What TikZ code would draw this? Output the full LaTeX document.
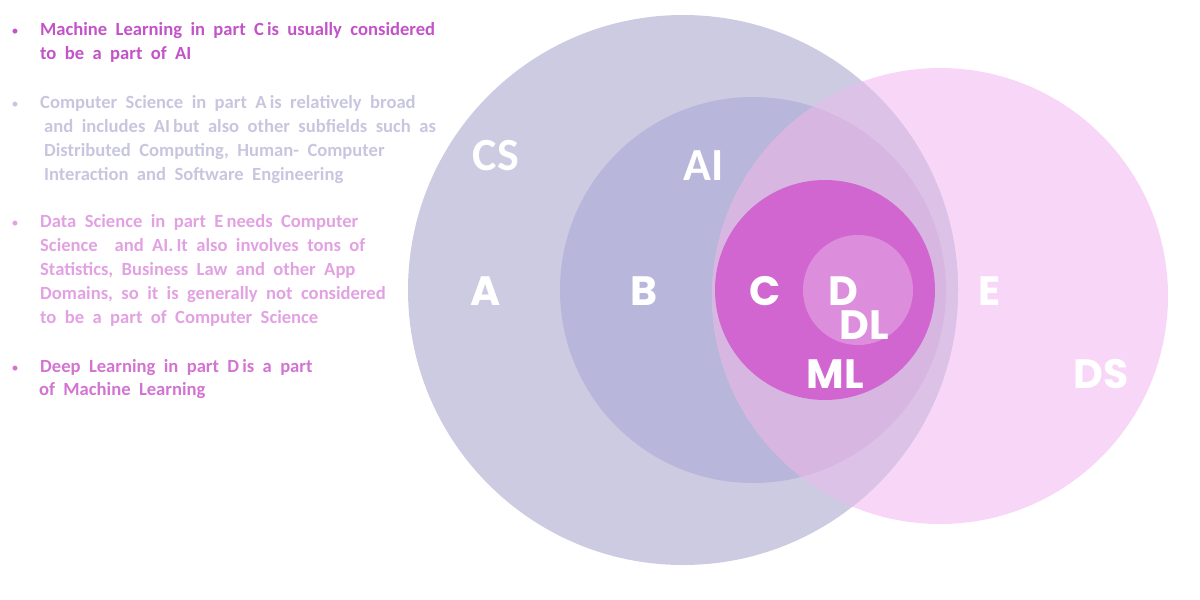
\documentclass[tikz,border=0pt]{standalone}
\usepackage{fontspec}
\setmainfont{Carlito}
\newfontfamily\popfont{Poppins}
\newfontfamily\notefont[WordSpace=2]{Carlito}
\usepackage{tikz}

\definecolor{csfill}{HTML}{CDCBE2}
\definecolor{aifill}{HTML}{B8B6DA}
\definecolor{dsfill}{HTML}{F7D6F7}
\definecolor{csds}{HTML}{DDC2E7}
\definecolor{aids}{HTML}{D7B7E1}
\definecolor{mlfill}{HTML}{D266D0}
\definecolor{dlfill}{HTML}{DC8EDC}
\definecolor{noteone}{HTML}{C353C8}
\definecolor{notetwo}{HTML}{C8C6DF}
\definecolor{notethree}{HTML}{E2A2E2}
\definecolor{notefour}{HTML}{D274D2}

\tikzset{
  note/.style={anchor=base west, inner sep=0pt, font=\notefont\bfseries\fontsize{18.6}{24}\selectfont},
  dot/.style={anchor=base, inner sep=0pt, font=\fontsize{14}{24}\selectfont},
  biglabel/.style={anchor=base, inner sep=0pt, text=white, font=\popfont\bfseries\fontsize{41}{41}\selectfont},
  setlabel/.style={anchor=base, inner sep=0pt, text=white, font=\bfseries\fontsize{46}{46}\selectfont}
}

\begin{document}
\begin{tikzpicture}[x=1pt,y=-1pt]
	\useasboundingbox (0,0) rectangle (1200,600);

	% the sets
	\fill[dsfill] (940,296) circle (228pt);
	\fill[csfill] (683,290) circle (275pt);
	\fill[aifill] (753,290) circle (193pt);
	\begin{scope}
		\clip (940,296) circle (228pt);
		\fill[csds] (683,290) circle (275pt);
		\fill[aids] (753,290) circle (193pt);
	\end{scope}
	\fill[mlfill] (825,290) circle (110pt);
	\fill[dlfill] (858,290) circle (55pt);

	% labels inside
	\node[setlabel] (csL) at (496,170) {CS};
	\node[setlabel] (aiL) at (704,180) {AI};
	\node[biglabel] (partA) at (486,305) {A};
	\node[biglabel] (partB) at (644,305) {B};
	\node[biglabel] (partC) at (765,305) {C};
	\node[biglabel] (partD) at (843,305) {D};
	\node[biglabel] (dlL) at (864,339) {DL};
	\node[biglabel] (mlL) at (835,388) {ML};
	\node[biglabel] (partE) at (990,305) {E};
	\node[biglabel] (dsL) at (1101,388) {DS};

	% notes on the left
	\node[dot, text=noteone] (b1) at (15,35) {•};
	\node[note, text=noteone] (n1a) at (40,35) {Machine Learning in part C\,is usually considered};
	\node[note, text=noteone] (n1b) at (40,59) {to be a part of AI};

	\node[dot, text=notetwo] (b2) at (15,108) {•};
	\node[note, text=notetwo] (n2a) at (40,108) {Computer Science in part A\,is relatively broad};
	\node[note, text=notetwo] (n2b) at (44,132) {and includes AI\,but also other subfields such as};
	\node[note, text=notetwo] (n2c) at (44,156) {Distributed Computing, Human- Computer};
	\node[note, text=notetwo] (n2d) at (44,180) {Interaction and Software Engineering};

	\node[dot, text=notethree] (b3) at (15,227) {•};
	\node[note, text=notethree] (n3a) at (40,227) {Data Science in part E\,needs Computer};
	\node[note, text=notethree] (n3b) at (40,251) {Science \ and AI.\,It also involves tons of};
	\node[note, text=notethree] (n3c) at (40,275) {Statistics, Business Law and other App};
	\node[note, text=notethree] (n3d) at (40,299) {Domains, so it is generally not considered};
	\node[note, text=notethree] (n3e) at (40,323) {to be a part of Computer Science};

	\node[dot, text=notefour] (b4) at (15,372) {•};
	\node[note, text=notefour] (n4a) at (40,372) {Deep Learning in part D\,is a part};
	\node[note, text=notefour] (n4b) at (39,395) {of Machine Learning};
\end{tikzpicture}
\end{document}
